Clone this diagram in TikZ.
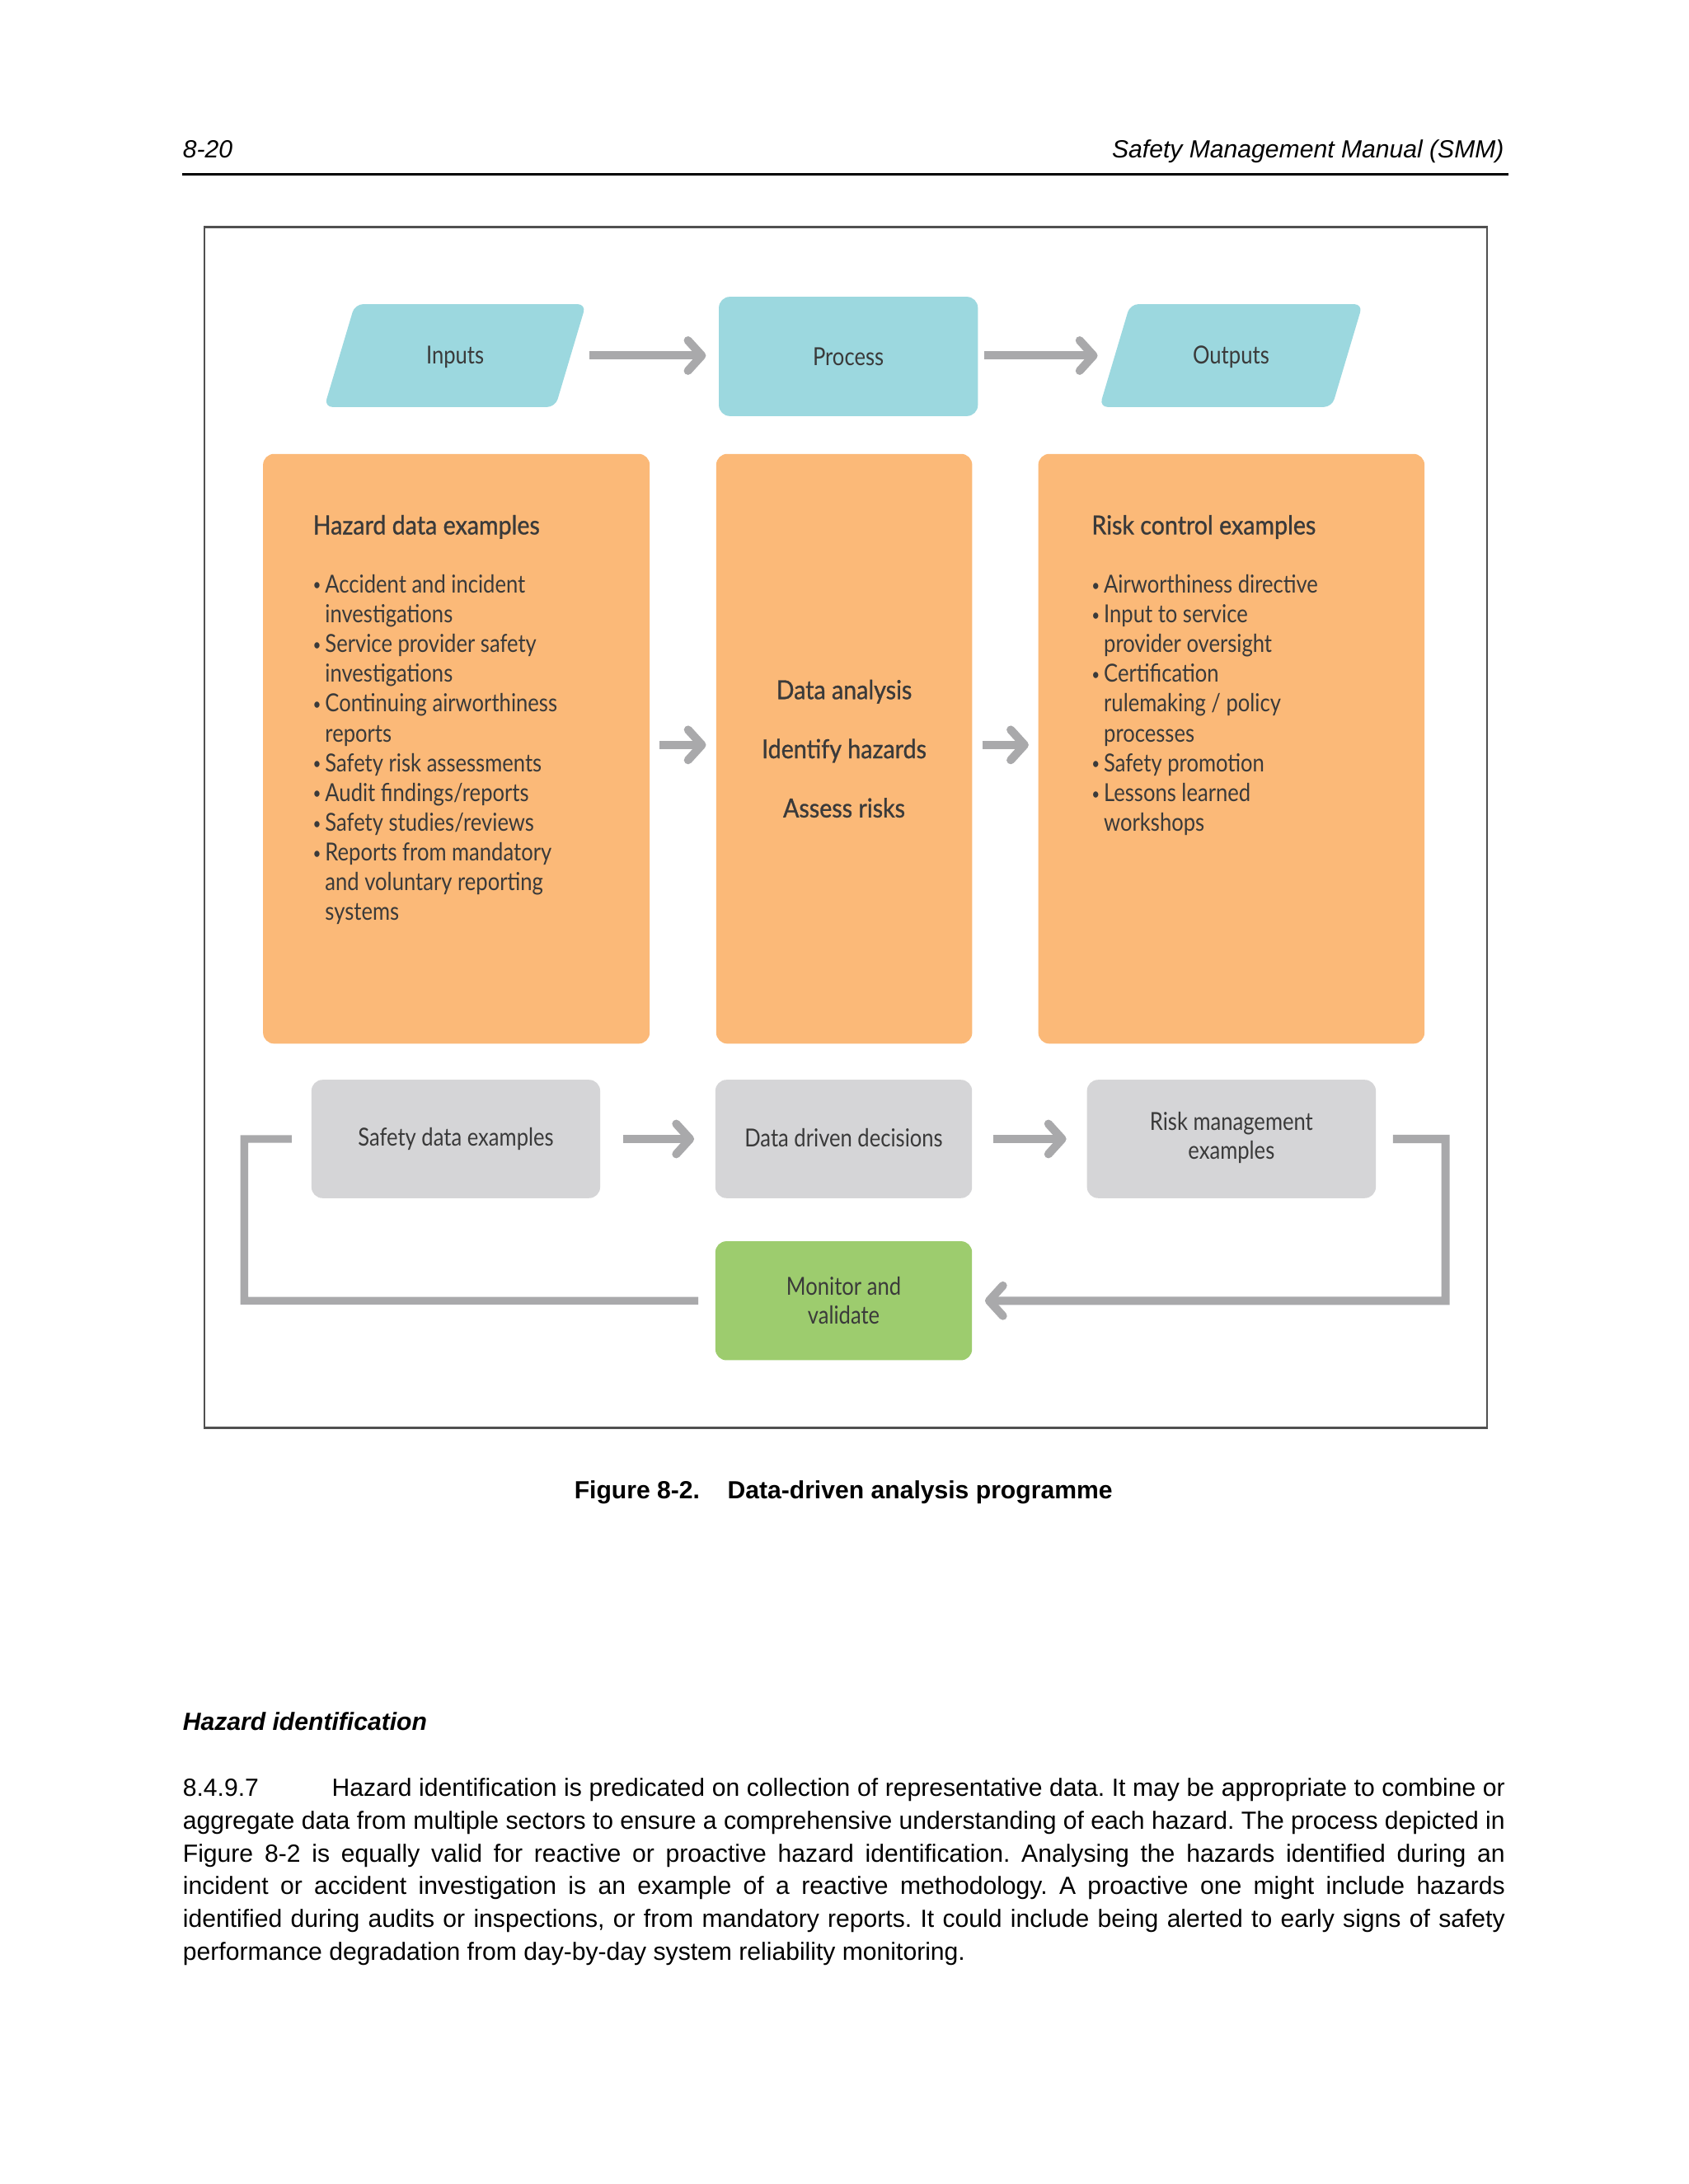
\documentclass[tikz,border=0pt]{standalone}
\usepackage{fontspec}
\setmainfont{Liberation Sans}
\newfontfamily\dfont[FakeStretch=0.85]{Lato}
\newfontfamily\dfontb[FakeStretch=0.9,FakeBold=0.9]{Lato}
\usetikzlibrary{arrows.meta,fit}
\definecolor{cteal}{HTML}{9CD8DF}
\definecolor{corange}{HTML}{FBB978}
\definecolor{cgray}{HTML}{D5D5D7}
\definecolor{cgreen}{HTML}{9DCC6E}
\definecolor{carrow}{HTML}{A9A9AB}
\definecolor{ctext}{HTML}{3A3A3A}
\definecolor{cframe}{HTML}{505050}
\newcommand\bul{\makebox[4.4pt][l]{\raisebox{0.7pt}{\fontsize{6}{6}\selectfont •}}}
\newcommand\ind{\hspace*{4.4pt}}
\newcommand\hdfont{\dfontb\fontsize{9.5}{10.8}\selectfont}
\tikzset{
  shapebox/.style={inner sep=0pt, rounded corners=4pt, fill=#1, draw=none},
  dtext/.style={font=\dfont\fontsize{9}{10.8}\selectfont, text=ctext, inner sep=0pt},
  dtextb/.style={font=\dfontb\fontsize{9.5}{21.44}\selectfont, text=ctext, inner sep=0pt},
  arr/.style={draw=carrow, line width=3pt, -{Straight Barb[length=5pt,width=11pt,round]}},
  fb/.style={draw=carrow, line width=2.8pt},
  body/.style={font=\fontsize{9}{11.9}\selectfont, inner sep=0pt},
}
\begin{document}
\begin{tikzpicture}[x=0.50453pt,y=-0.50453pt]
\fill[white] (0,0) rectangle (1213,1569.5);
\useasboundingbox (0,0) rectangle (1213,1569.5);

% header
\node[body, anchor=base west, font=\fontsize{9}{11.9}\selectfont\itshape] (pg) at (131,113.5) {8-20};
\node[body, anchor=base east, font=\fontsize{9}{11.9}\selectfont\itshape] (ttl) at (1081,113.5) {Safety Management Manual (SMM)};
\coordinate (rl) at (131,125.2);
\coordinate (rr) at (1084,125.2);
\draw[line width=0.8pt] (rl) -- (rr);

% frame
\draw[cframe, line width=0.75pt] (147,163.3) rectangle (1068.5,1026);

% top row
\fill[cteal, rounded corners=3pt] (233,292.5) -- (255,218.6) -- (421,218.6) -- (399,292.5) -- cycle;
\node[fit={(233,218.6) (421,292.5)}, inner sep=0pt] (inputs) {};
\node[dtext, anchor=base] (inputstxt) at (327,261.2) {Inputs};
\node[shapebox=cteal, fit={(516.5,213.3) (702.6,299)}] (process) {};
\node[dtext, anchor=base] (processtxt) at (609.5,262.6) {Process};
\fill[cteal, rounded corners=3pt] (790,292.5) -- (812,218.6) -- (979,218.6) -- (957,292.5) -- cycle;
\node[fit={(790,218.6) (979,292.5)}, inner sep=0pt] (outputs) {};
\node[dtext, anchor=base] (outputstxt) at (884.5,261.2) {Outputs};

\draw[arr, shorten <=1pt, shorten >=4.5pt] (inputs.east) -- (process.west |- inputs.east);
\draw[arr, shorten <=2.2pt, shorten >=0.5pt] (process.east |- outputs.west) -- (outputs.west);

% orange row
\node[shapebox=corange, fit={(189,326.2) (466.8,750)}] (hz) {};
\node[shapebox=corange, fit={(514.6,326.2) (698.5,750)}] (da) {};
\node[shapebox=corange, fit={(746,326.2) (1023.5,750)}] (rc) {};

\node[dtext, anchor=base west, align=left] (hztxt) at (224.5,661.5)
 {{\hdfont Hazard data examples}\\[10.4pt]
  \bul Accident and incident\\
  \ind investigations\\
  \bul Service provider safety\\
  \ind investigations\\
  \bul Continuing airworthiness\\
  \ind reports\\
  \bul Safety risk assessments\\
  \bul Audit findings/reports\\
  \bul Safety studies/reviews\\
  \bul Reports from mandatory\\
  \ind and voluntary reporting\\
  \ind systems};

\node[dtextb, anchor=base, align=center] (datxt) at (606.5,587.4)
 {Data analysis\\Identify hazards\\Assess risks};

\node[dtext, anchor=base west, align=left] (rctxt) at (784,597.3)
 {{\hdfont Risk control examples}\\[10.4pt]
  \bul Airworthiness directive\\
  \bul Input to service\\
  \ind provider oversight\\
  \bul Certification\\
  \ind rulemaking / policy\\
  \ind processes\\
  \bul Safety promotion\\
  \bul Lessons learned\\
  \ind workshops};

\draw[arr, shorten <=3.3pt, shorten >=3.5pt] ([yshift=1.4pt]hz.east) -- ([yshift=1.4pt]da.west);
\draw[arr, shorten <=3.5pt, shorten >=3.3pt] ([yshift=1.4pt]da.east) -- ([yshift=1.4pt]rc.west);

% gray row
\node[shapebox=cgray, fit={(223.8,776) (431.2,861)}] (sd) {};
\node[dtext, anchor=base] (sdtxt) at (327.5,823.4) {Safety data examples};
\node[shapebox=cgray, fit={(514,776) (698.4,861)}] (ddd) {};
\node[dtext, anchor=base] (dddtxt) at (606.2,824.3) {Data driven decisions};
\node[shapebox=cgray, fit={(781,776) (988.5,861)}] (rm) {};
\node[dtext, anchor=base, align=center, font=\dfont\fontsize{9}{10.45}\selectfont] (rmtxt) at (884.75,833.2) {Risk management\\examples};

\draw[arr, shorten <=8pt, shorten >=7.5pt] (sd.east) -- (ddd.west);
\draw[arr, shorten <=7.4pt, shorten >=7.3pt] (ddd.east) -- (rm.west);

% green
\node[shapebox=cgreen, fit={(514,892) (698.4,977.5)}] (mv) {};
\node[dtext, anchor=base, align=center, font=\dfont\fontsize{9}{10.6}\selectfont] (mvtxt) at (606.2,951.7) {Monitor and\\validate};

% feedback
\coordinate (lx) at (175.5,818.5);
\coordinate (rx) at (1038.6,818.5);
\draw[fb, shorten <=7pt, shorten >=6pt] (sd.west) -- (lx) |- (mv.west);
\draw[arr, shorten <=6pt, shorten >=4.5pt] (rm.east) -- (rx) |- (mv.east);

% caption
\node[body, anchor=base, font=\fontsize{9}{11.9}\selectfont\bfseries] (cap) at (606,1077)
 {Figure 8-2.\hspace{10pt}Data-driven analysis programme};

% section heading
\node[body, anchor=base west, font=\fontsize{9}{11.9}\selectfont\bfseries\itshape] (sec) at (131,1243.5) {Hazard identification};

% paragraph
\node[body, anchor=base west, text width=479.3pt, align=justify] (par) at (131,1290.8)
 {\frenchspacing\tolerance=9999\emergencystretch=0pt\hyphenpenalty=10000%
 \makebox[54pt][l]{8.4.9.7}Hazard identification is predicated on collection of representative data. It may be appropriate to combine or\linebreak
 aggregate data from multiple sectors to ensure a comprehensive understanding of each hazard. The process depicted in\linebreak
 Figure 8-2 is equally valid for reactive or proactive hazard identification. Analysing the hazards identified during an\linebreak
 incident or accident investigation is an example of a reactive methodology. A proactive one might include hazards\linebreak
 identified during audits or inspections, or from mandatory reports. It could include being alerted to early signs of safety\linebreak
 performance degradation from day-by-day system reliability monitoring.};
\end{tikzpicture}
\end{document}
